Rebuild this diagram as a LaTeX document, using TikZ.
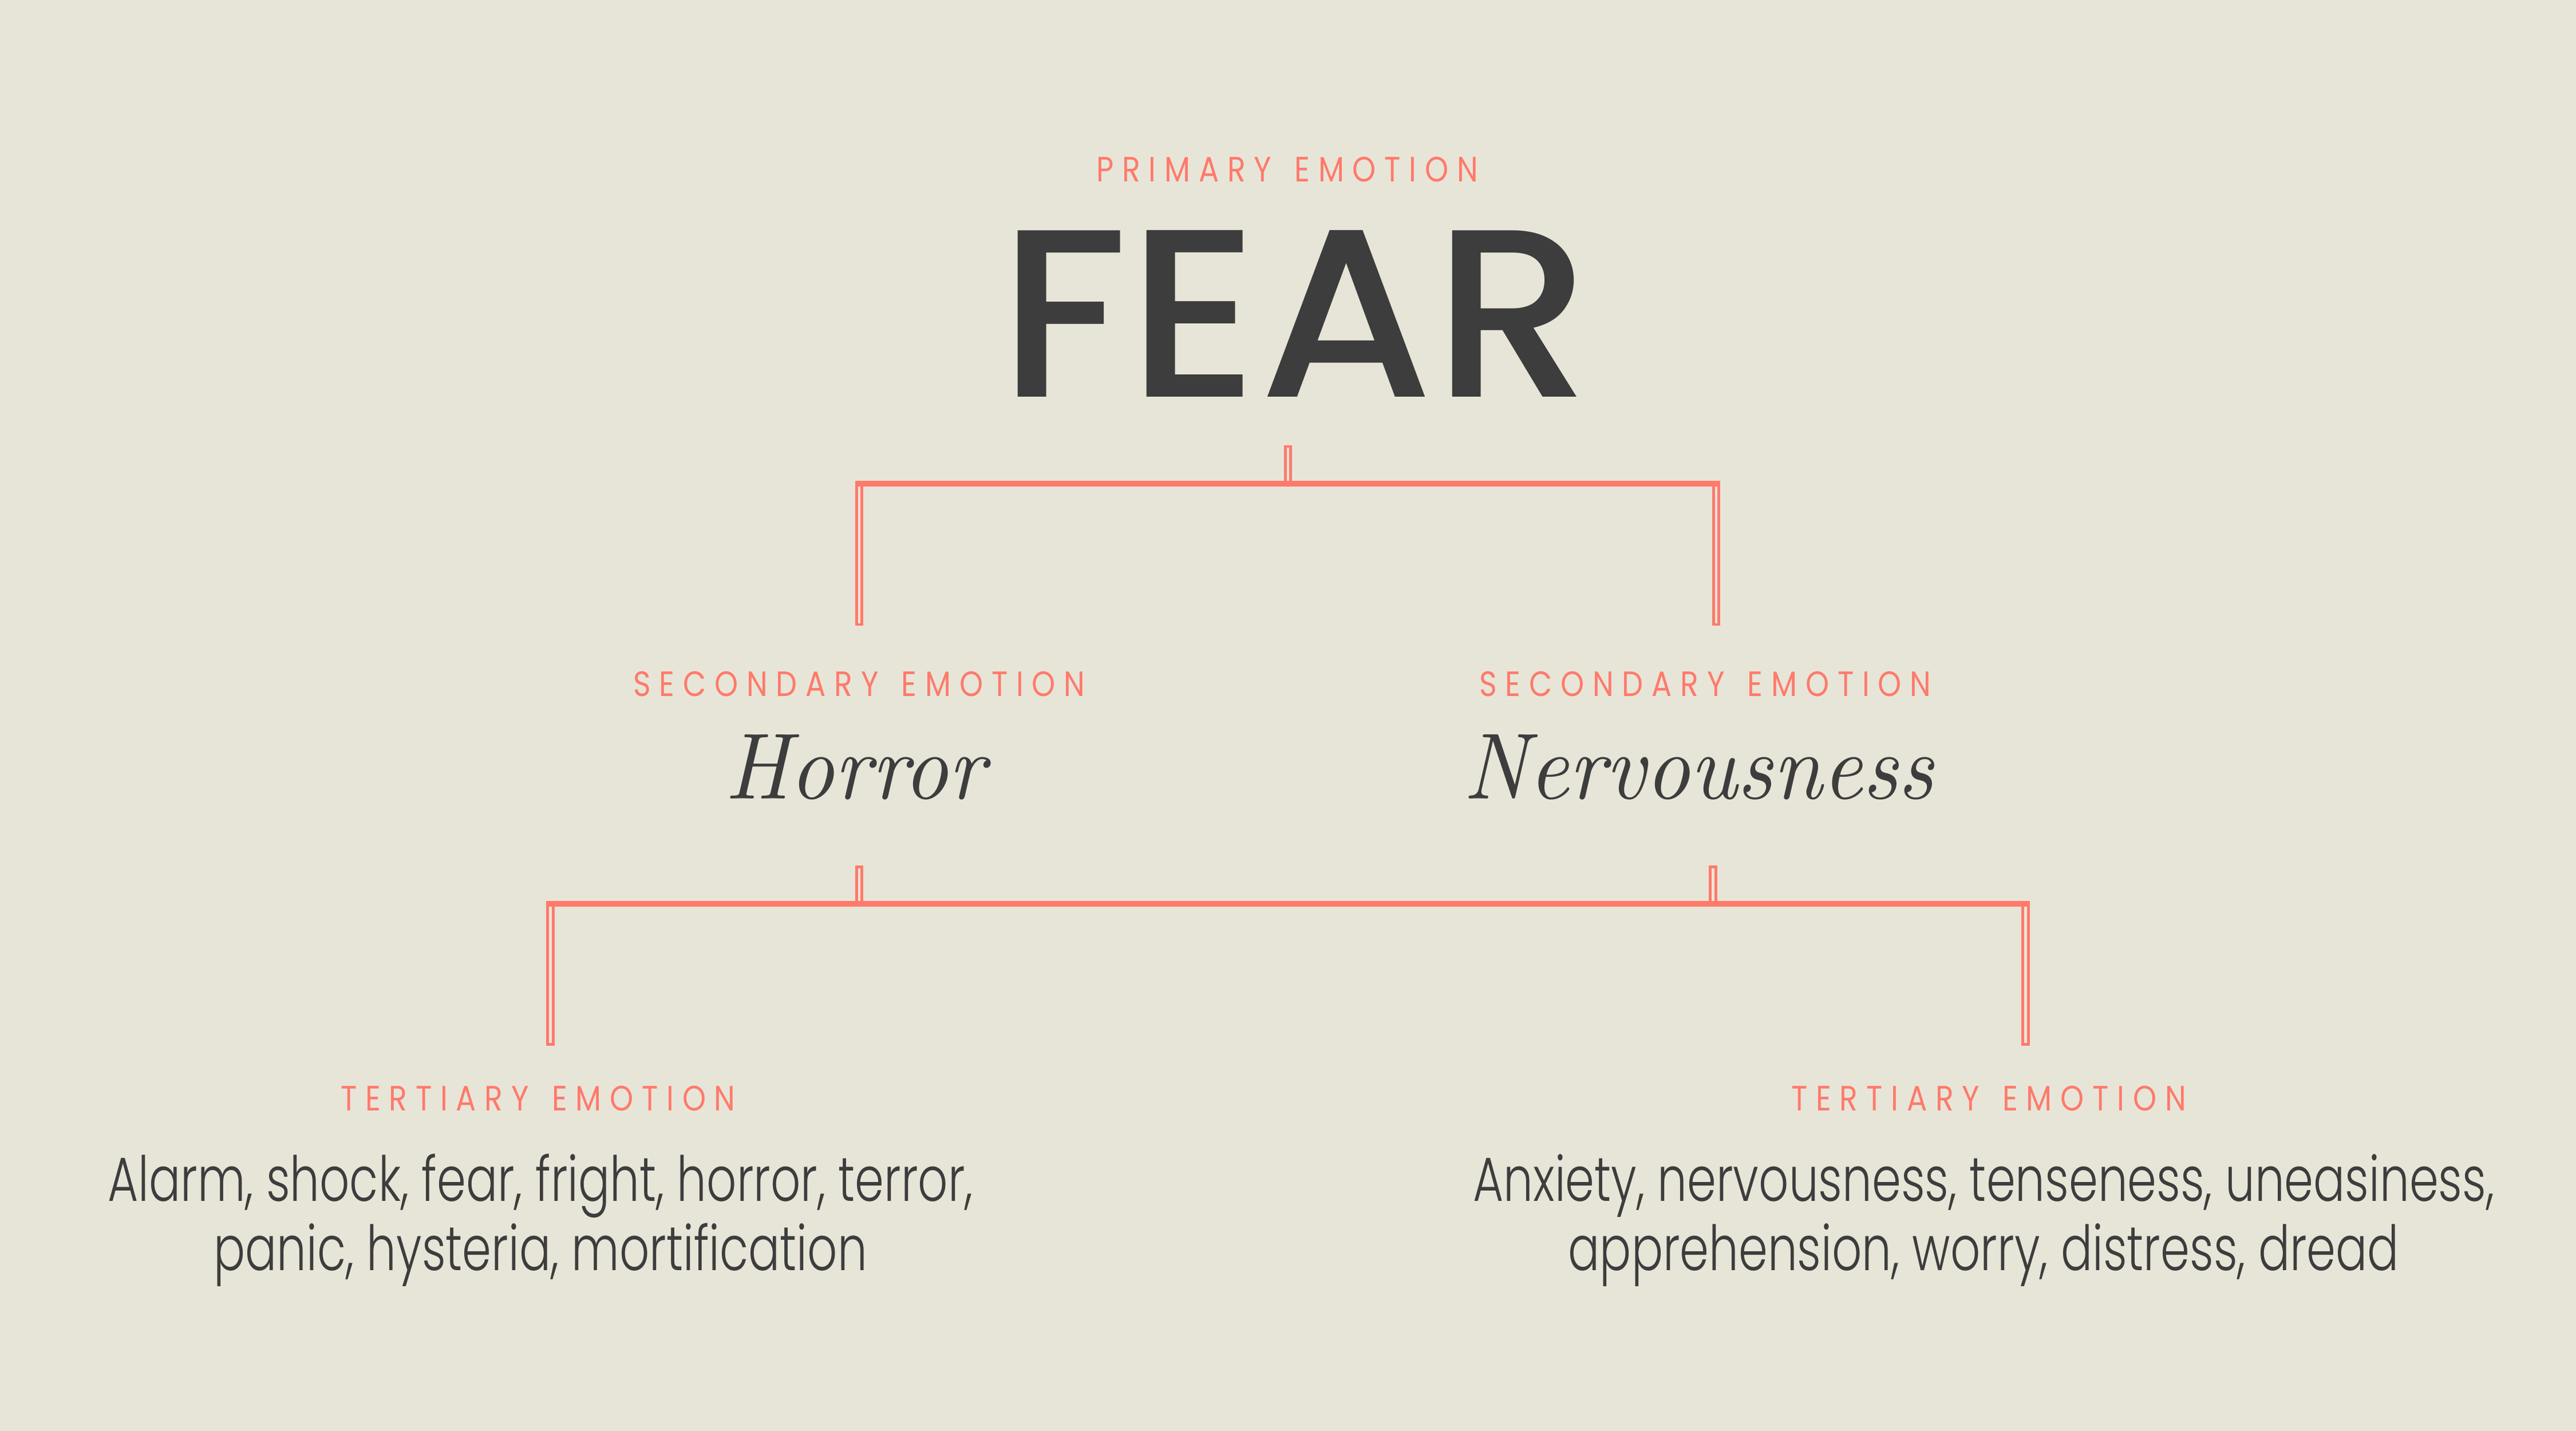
\documentclass[tikz,border=0pt]{standalone}
\usepackage{fontspec}
\setmainfont{Poppins}
\newfontfamily\tagfont{Poppins}[FakeStretch=0.85,LetterSpace=24,WordSpace=1.4]
\newfontfamily\fearfont{Poppins Medium}[FakeStretch=1.045]
\newfontfamily\bodyfont{Poppins Light}[FakeStretch=0.75]
\newfontfamily\secfont{lmroman10-italic.otf}[FakeStretch=0.93]
\definecolor{paper}{HTML}{E7E5D8}
\definecolor{coral}{HTML}{FF7A6B}
\definecolor{ink}{HTML}{3D3D3D}

\begin{document}
\begin{tikzpicture}[x=0.28699mm, y=-0.28699mm,
    tag/.style={anchor=base, inner sep=0pt, text=coral, font=\tagfont\fontsize{17.5}{20}\selectfont},
    title/.style={anchor=base, inner sep=0pt, text=ink, font=\fearfont\fontsize{119}{119}\selectfont},
    sec/.style={anchor=base, inner sep=0pt, text=ink, font=\secfont\fontsize{46.7}{50}\selectfont},
    body/.style={anchor=base, inner sep=0pt, text=ink, align=center, font=\bodyfont\fontsize{31}{34.4}\selectfont},
    bar/.style={draw=coral, line width=1mm, shorten <=-0.7mm, shorten >=-0.7mm},
    leg/.style={draw=coral, line width=1.45mm, postaction={draw=paper, line width=0.46mm, shorten <=0.42mm, shorten >=0.42mm}}]
    \fill[paper] (0,0) rectangle (1568,871.1);

    \node[tag] (primary) at (783.5,110.5) {PRIMARY EMOTION};
    \node[title] (fear) at (788.5,241.5) {FEAR};
    \node[tag] (sec1) at (523,424) {SECONDARY EMOTION};
    \node[sec] (horror) at (520.5,486.2) {Horror};
    \node[tag] (sec2) at (1038,424) {SECONDARY EMOTION};
    \node[sec] (nerv) at (1034,486.2) {Nervousness};
    \node[tag] (ter1) at (327.5,676.3) {TERTIARY EMOTION};
    \node[body] (alarm) at (329,773.2) {Alarm, shock, fear, fright, horror, terror,\\panic, hysteria, mortification};
    \node[tag] (ter2) at (1210.5,676.3) {TERTIARY EMOTION};
    \node[body] (anxiety) at (1207.5,773.2) {Anxiety, nervousness, tenseness, uneasiness,\\apprehension, worry, distress, dread};

    \coordinate (fear tip) at (784,271);
    \coordinate (top l) at (523,294.5);
    \coordinate (top r) at (1044.6,294.5);
    \coordinate (horror top) at (523,381);
    \coordinate (nerv top) at (1044.6,381);
    \coordinate (horror tip) at (523,527);
    \coordinate (nerv tip) at (1042.7,527);
    \coordinate (low l) at (335,550.2);
    \coordinate (low r) at (1233,550.2);
    \coordinate (alarm top) at (335,636.5);
    \coordinate (anxiety top) at (1233,636.5);

    \draw[leg] (fear tip) -- (fear tip |- top l);
    \draw[leg] (top l) -- (horror top);
    \draw[leg] (top r) -- (nerv top);
    \draw[bar] (top l) -- (top r);

    \draw[leg] (horror tip) -- (horror tip |- low l);
    \draw[leg] (nerv tip) -- (nerv tip |- low l);
    \draw[leg] (low l) -- (alarm top);
    \draw[leg] (low r) -- (anxiety top);
    \draw[bar] (low l) -- (low r);
\end{tikzpicture}
\end{document}
